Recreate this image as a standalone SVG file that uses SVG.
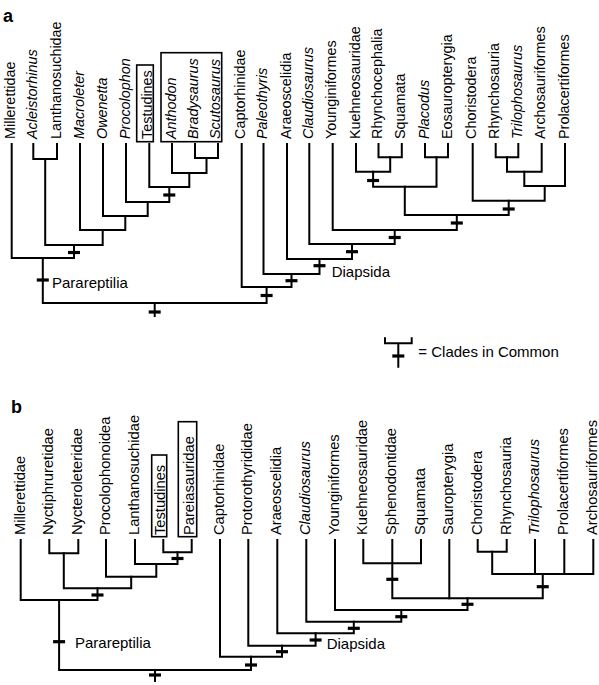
<svg xmlns="http://www.w3.org/2000/svg" xmlns:xlink="http://www.w3.org/1999/xlink" width="599" height="685" viewBox="0 0 599 685">
<style>
text{font-family:"Liberation Sans",Arial,Helvetica,sans-serif;fill:#000}
.ta{font-size:14.4px}
.tb{font-size:14.7px}
.it{font-style:italic}
.lab{font-size:15px}
.pan{font-size:18px;font-weight:bold}
.ln{fill:none;stroke:#000;stroke-width:2;stroke-linecap:square}
.box{fill:none;stroke:#000;stroke-width:1.6}
</style>
<defs>
<path id="tk" d="M-6,0H6" stroke="#000" stroke-width="3.2" fill="none"/>
</defs>
<rect width="599" height="685" fill="#fff"/>
<text class="pan" x="3" y="21.7">a</text>
<text class="pan" x="11" y="413.3">b</text>

<g id="connectors">
<g id="tree-a-lines" class="ln">
<path d="M195,144V158H218V144"/>
<path d="M172,144V173H206.5V158"/>
<path d="M149.3,144V187H189.3V173"/>
<path d="M126,144V202H169.3V187"/>
<path d="M103,144V216H147.7V202"/>
<path d="M80,144V230H125.3V216"/>
<path d="M33.3,144V159H57V144"/>
<path d="M45.2,159V245H102.7V230"/>
<path d="M11.7,144V258H74V245"/>
<path d="M42.8,258V303H266.6V287"/>
<path d="M154.7,303V316"/>
<path d="M241.7,144V287H291.5V274"/>
<path d="M263.5,144V274H319.5V259"/>
<path d="M287,144V259H352V244"/>
<path d="M309.3,144V244H394.7V230"/>
<path d="M332.7,144V230H456.8V215"/>
<path d="M378.5,144V157.3H401.8V144"/>
<path d="M356,144V171.7H390.2V157.3"/>
<path d="M373.1,171.7V186.7H436.5V157.3"/>
<path d="M425,144V157.3H448V144"/>
<path d="M404.8,186.7V215H508.7V200.7"/>
<path d="M495.7,144V157.3H518.3V144"/>
<path d="M507,157.3V171.7H541.7V144"/>
<path d="M524.3,171.7V186H565V144"/>
<path d="M472.7,144V200.7H544.7V186"/>
</g>
<g id="tree-a-ticks">
<use xlink:href="#tk" x="169.3" y="195"/>
<use xlink:href="#tk" x="74" y="252.5"/>
<use xlink:href="#tk" x="42.8" y="280"/>
<use xlink:href="#tk" x="154.7" y="312"/>
<use xlink:href="#tk" x="266.6" y="295.5"/>
<use xlink:href="#tk" x="291.5" y="280.7"/>
<use xlink:href="#tk" x="319.5" y="265.7"/>
<use xlink:href="#tk" x="352" y="251.7"/>
<use xlink:href="#tk" x="394.7" y="237.5"/>
<use xlink:href="#tk" x="456.8" y="223"/>
<use xlink:href="#tk" x="508.7" y="209"/>
<use xlink:href="#tk" x="373.1" y="180.5"/>
</g>
<g id="tree-b-lines" class="ln">
<path d="M49.3,540V553.3H78.3V540"/>
<path d="M163.3,540V552.3H191.7V540"/>
<path d="M135,540V564H177.5V552.3"/>
<path d="M106,540V576.7H156.3V564"/>
<path d="M63.8,553.3V588.3H131.2V576.7"/>
<path d="M20.7,540V600H97.5V588.3"/>
<path d="M59.1,600V670H251V656.7"/>
<path d="M155,670V681"/>
<path d="M220,540V656.7H282V645.7"/>
<path d="M248.3,540V645.7H315.6V633.3"/>
<path d="M277.3,540V633.3H353.8V621.7"/>
<path d="M306.3,540V621.7H401.3V610"/>
<path d="M335,540V610H467.5V598.3"/>
<path d="M363.3,540V563.3H421V540"/>
<path d="M392.3,540V598.3H542.75V574"/>
<path d="M449.3,540V598.3"/>
<path d="M477.7,540V551.7H506.7V540"/>
<path d="M492.2,551.7V574H593.3V540"/>
<path d="M535,540V574"/>
<path d="M564.3,540V574"/>
</g>
<g id="tree-b-ticks">
<use xlink:href="#tk" x="177.5" y="558.5"/>
<use xlink:href="#tk" x="97.5" y="595"/>
<use xlink:href="#tk" x="59.1" y="641.7"/>
<use xlink:href="#tk" x="155" y="675"/>
<use xlink:href="#tk" x="251" y="665"/>
<use xlink:href="#tk" x="282" y="651.7"/>
<use xlink:href="#tk" x="315.6" y="640"/>
<use xlink:href="#tk" x="353.8" y="628.3"/>
<use xlink:href="#tk" x="401.3" y="616.7"/>
<use xlink:href="#tk" x="467.5" y="604.3"/>
<use xlink:href="#tk" x="392.3" y="579.3"/>
<use xlink:href="#tk" x="542.75" y="586.7"/>
</g>
</g>

<g id="tree-a-nodes" class="ta">
<g id="a-millerettidae"><text transform="translate(15.2,139) rotate(-90)">Millerettidae</text></g>
<g id="a-acleistorhinus"><text class="it" transform="translate(36.8,139) rotate(-90)">Acleistorhinus</text></g>
<g id="a-lanthanosuchidae"><text transform="translate(60.5,139) rotate(-90)">Lanthanosuchidae</text></g>
<g id="a-macroleter"><text class="it" transform="translate(83.5,139) rotate(-90)">Macroleter</text></g>
<g id="a-owenetta"><text class="it" transform="translate(106.5,139) rotate(-90)">Owenetta</text></g>
<g id="a-procolophon"><text class="it" transform="translate(129.5,139) rotate(-90)">Procolophon</text></g>
<g id="a-testudines"><rect class="box" x="136.7" y="65" width="16.6" height="76.7"/><text transform="translate(151.6,139) rotate(-90)">Testudines</text></g>
<g id="a-pareiasaurs"><rect class="box" x="161" y="52.7" width="60.7" height="89"/>
<text class="it" transform="translate(175.5,139) rotate(-90)">Anthodon</text>
<text class="it" transform="translate(198.3,139) rotate(-90)">Bradysaurus</text>
<text class="it" transform="translate(219.8,139) rotate(-90)">Scutosaurus</text></g>
<g id="a-captorhinidae"><text transform="translate(245.2,139) rotate(-90)">Captorhinidae</text></g>
<g id="a-paleothyris"><text class="it" transform="translate(267,139) rotate(-90)">Paleothyris</text></g>
<g id="a-araeoscelidia"><text transform="translate(290.5,139) rotate(-90)">Araeoscelidia</text></g>
<g id="a-claudiosaurus"><text class="it" transform="translate(312.8,139) rotate(-90)">Claudiosaurus</text></g>
<g id="a-younginiformes"><text transform="translate(336.2,139) rotate(-90)">Younginiformes</text></g>
<g id="a-kuehneosauridae"><text transform="translate(359.5,139) rotate(-90)">Kuehneosauridae</text></g>
<g id="a-rhynchocephalia"><text transform="translate(382,139) rotate(-90)">Rhynchocephalia</text></g>
<g id="a-squamata"><text transform="translate(405.3,139) rotate(-90)">Squamata</text></g>
<g id="a-placodus"><text class="it" transform="translate(428.5,139) rotate(-90)">Placodus</text></g>
<g id="a-eosauropterygia"><text transform="translate(451.5,139) rotate(-90)">Eosauropterygia</text></g>
<g id="a-choristodera"><text transform="translate(476.2,139) rotate(-90)">Choristodera</text></g>
<g id="a-rhynchosauria"><text transform="translate(499.2,139) rotate(-90)">Rhynchosauria</text></g>
<g id="a-trilophosaurus"><text class="it" transform="translate(521.8,139) rotate(-90)">Trilophosaurus</text></g>
<g id="a-archosauriformes"><text transform="translate(545.2,139) rotate(-90)">Archosauriformes</text></g>
<g id="a-prolacertiformes"><text transform="translate(568.5,139) rotate(-90)">Prolacertiformes</text></g>
<g id="a-parareptilia"><text class="lab" x="52" y="288">Parareptilia</text></g>
<g id="a-diapsida"><text class="lab" x="331.7" y="276.7">Diapsida</text></g>
</g>

<g id="legend">
<path class="ln" d="M385,338.3V343.3H411.7V338.3M398.3,343.3V366.7"/>
<use xlink:href="#tk" x="398.3" y="356"/>
<text class="lab" x="418.3" y="356.7">= Clades in Common</text>
</g>

<g id="tree-b-nodes" class="tb">
<g id="b-millerettidae"><text transform="translate(24.7,535) rotate(-90)">Millerettidae</text></g>
<g id="b-nyctiphruretidae"><text transform="translate(53.3,535) rotate(-90)">Nyctiphruretidae</text></g>
<g id="b-nycteroleteridae"><text transform="translate(82.3,535) rotate(-90)">Nycteroleteridae</text></g>
<g id="b-procolophonoidea"><text transform="translate(110,535) rotate(-90)">Procolophonoidea</text></g>
<g id="b-lanthanosuchidae"><text transform="translate(139,535) rotate(-90)">Lanthanosuchidae</text></g>
<g id="b-testudines"><rect class="box" x="151.7" y="455" width="15" height="81.7"/><text transform="translate(165,535) rotate(-90)">Testudines</text></g>
<g id="b-pareiasauridae"><rect class="box" x="178.3" y="421.7" width="18.4" height="115"/><text transform="translate(193.5,535) rotate(-90)">Pareiasauridae</text></g>
<g id="b-captorhinidae"><text transform="translate(224,535) rotate(-90)">Captorhinidae</text></g>
<g id="b-protorothyrididae"><text transform="translate(252.3,535) rotate(-90)">Protorothyrididae</text></g>
<g id="b-araeoscelidia"><text transform="translate(281.3,535) rotate(-90)">Araeoscelidia</text></g>
<g id="b-claudiosaurus"><text class="it" transform="translate(310.3,535) rotate(-90)">Claudiosaurus</text></g>
<g id="b-younginiformes"><text transform="translate(339,535) rotate(-90)">Younginiformes</text></g>
<g id="b-kuehneosauridae"><text transform="translate(367.3,535) rotate(-90)">Kuehneosauridae</text></g>
<g id="b-sphenodontidae"><text transform="translate(396.3,535) rotate(-90)">Sphenodontidae</text></g>
<g id="b-squamata"><text transform="translate(425,535) rotate(-90)">Squamata</text></g>
<g id="b-sauropterygia"><text transform="translate(453.3,535) rotate(-90)">Sauropterygia</text></g>
<g id="b-choristodera"><text transform="translate(481.7,535) rotate(-90)">Choristodera</text></g>
<g id="b-rhynchosauria"><text transform="translate(510.7,535) rotate(-90)">Rhynchosauria</text></g>
<g id="b-trilophosaurus"><text class="it" transform="translate(539,535) rotate(-90)">Trilophosaurus</text></g>
<g id="b-prolacertiformes"><text transform="translate(568.3,535) rotate(-90)">Prolacertiformes</text></g>
<g id="b-archosauriformes"><text transform="translate(597.3,535) rotate(-90)">Archosauriformes</text></g>
<g id="b-parareptilia"><text class="lab" x="75" y="647.7">Parareptilia</text></g>
<g id="b-diapsida"><text class="lab" x="326.7" y="649">Diapsida</text></g>
</g>
</svg>
